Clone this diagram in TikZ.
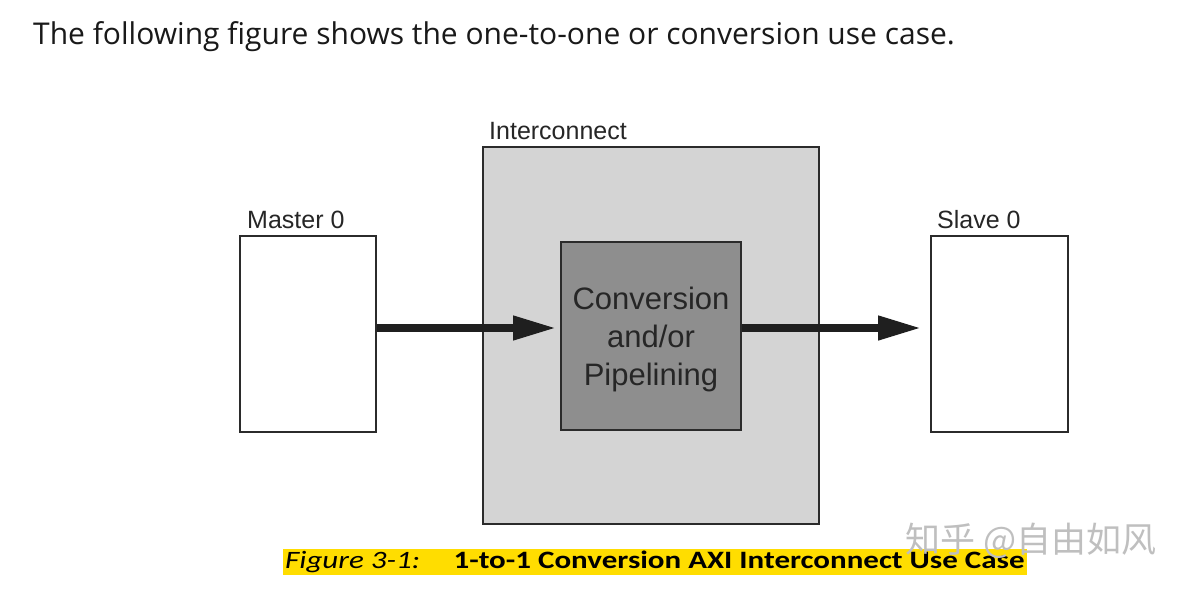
\documentclass[tikz,border=0pt]{standalone}
\usepackage{fontspec}
\usepackage{xcolor}
\usetikzlibrary{arrows.meta}
\setmainfont{Open Sans}
\newfontfamily\figfont{Liberation Sans}
\newfontfamily\capfont{Carlito}
\newfontfamily\cjkfont{Noto Sans CJK SC}
\definecolor{icgray}{HTML}{D4D4D4}
\definecolor{convgray}{HTML}{8E8E8E}
\definecolor{edgegray}{HTML}{2B2B2B}
\definecolor{capyellow}{HTML}{FFDD00}

\begin{document}
\begin{tikzpicture}[
        x=1pt, y=-1pt,
        blk/.style={rectangle, draw=edgegray, line width=2pt, inner sep=0pt},
        lbl/.style={anchor=base west, inner sep=0pt, text=black!85, font=\figfont\fontsize{25}{30}\selectfont},
        flow/.style={line width=7.5pt, draw=black!88, -{Triangle[length=43pt, width=23pt]}, shorten >=4pt}
    ]
    \useasboundingbox (0,0) rectangle (1186,589);
    \fill[white] (0,0) rectangle (1186,589);

    % Intro line
    \node[anchor=base west, inner sep=0pt, text=black!90, font=\fontsize{30}{34}\selectfont] (intro) at (33,44)
        {The following figure shows the one-to-one or conversion use case.};

    % Interconnect with the conversion block inside
    \node[blk, fill=icgray, minimum width=336pt, minimum height=377pt] (ic) at (651,335.5) {};
    \node[lbl] (iclbl) at (489,139) {Interconnect};
    \node[blk, fill=convgray, minimum width=180pt, minimum height=188pt] (conv) at (651,336) {};
    \node[align=center, inner sep=0pt, text=black!85, font=\figfont\fontsize{31}{38}\selectfont]
        (convtxt) at ([yshift=-3pt]conv.center) {Conversion\\and/or\\Pipelining};

    % Master and slave
    \node[blk, fill=white, minimum width=136pt, minimum height=196pt] (m0) at (308,334) {};
    \node[lbl] (m0lbl) at (247,228) {Master 0};
    \node[blk, fill=white, minimum width=137pt, minimum height=196pt] (s0) at (999.5,334) {};
    \node[lbl] (s0lbl) at (937,228) {Slave 0};

    % Data path
    \draw[flow] ([yshift=6pt]m0.east) -- ([yshift=8pt]conv.west);
    \draw[flow, shorten >=9pt] ([yshift=8pt]conv.east) -- ([yshift=6pt]s0.west);

    % Caption
    \node[anchor=base west, fill=capyellow, inner xsep=2pt, inner ysep=0pt, text height=19pt,
          text depth=7pt, font=\capfont\fontsize{25}{30}\selectfont] (cap) at (283,568)
        {\scalebox{1.24}[1]{\itshape Figure 3-1:\hspace{27pt}\upshape\bfseries 1-to-1 Conversion AXI Interconnect Use Case}};

    % Watermark
    \node[anchor=west, inner sep=0pt, text=black!25, font=\cjkfont\fontsize{35}{40}\selectfont] (wm) at (905,541)
        {知乎 @自由如风};
\end{tikzpicture}
\end{document}
